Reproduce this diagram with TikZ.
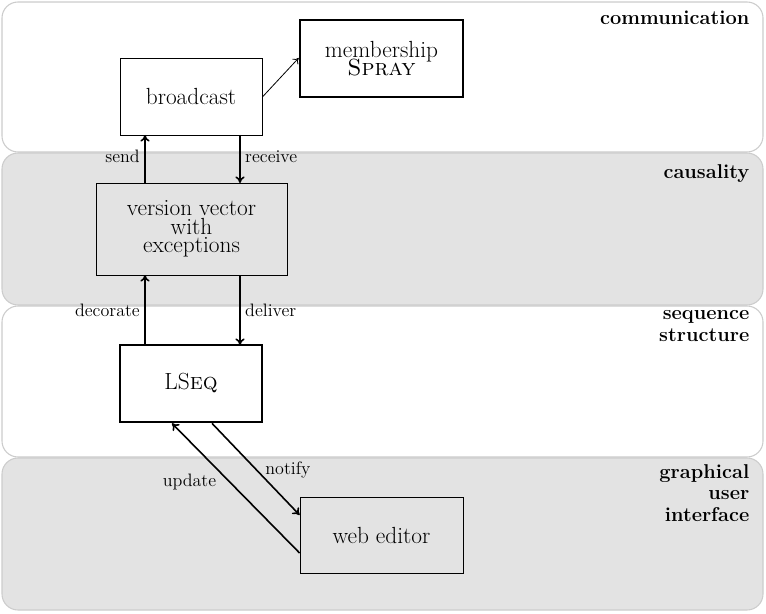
\RequirePackage{fix-cm}
\documentclass[tikz,border=0pt]{standalone}
\usetikzlibrary{arrows.meta}
\begin{document}
\begin{tikzpicture}[x=0.75pt,y=-0.75pt,
 band/.style={draw=black!20,rounded corners=12pt,line width=0.8pt},
 box/.style={draw,line width=0.6pt,minimum width=142*0.75pt,minimum height=77*0.75pt,inner sep=1pt,align=center,font=\fontsize{17.5}{18}\selectfont},
 thick box/.style={box,line width=2pt},
 conn/.style={-{To[length=5pt,width=7pt]},line width=1.2pt},
 lab/.style={font=\fontsize{13.5}{15}\selectfont},
 head/.style={font=\fontsize{15}{17}\selectfont\bfseries,align=right,anchor=north east}]
\useasboundingbox (0,0) rectangle (766,613);
\draw[band,fill=white] (2,2) rectangle (763,152);
\draw[band,fill=black!11] (2,153) rectangle (763,305);
\draw[band,fill=white] (2,306) rectangle (763,457);
\draw[band,fill=black!11] (2,458) rectangle (763,610);
\node[head] (h1) at (754,6) {communication};
\node[head] (h2) at (754,160) {causality};
\node[head] (h3) at (754,306) {sequence\\[-1pt]structure};
\node[head] (h4) at (754,460) {graphical\\[-1pt]user\\[-1pt]interface};
\node[box] (bc) at (191,96.5) {broadcast};
\node[thick box,minimum width=163*0.75pt] (mem) at (381.5,58.5) {membership\\[-4pt]\textsc{Spray}};
\node[box,minimum width=191*0.75pt,minimum height=92*0.75pt] (vv) at (191.5,229) {version vector\\[-4pt]with\\[-4pt]exceptions};
\node[thick box] (ls) at (191,383.5) {LS\textsc{eq}};
\node[box,minimum width=163*0.75pt,minimum height=76*0.75pt] (we) at (381.5,535) {web editor};
\draw[-{To[length=4pt,width=6pt]},line width=0.6pt] (bc.east |- 0,97) -- (mem.west |- 0,58);
\draw[conn] (145,183) -- node[lab,left,pos=0.55]{send} (145,135);
\draw[conn] (240,135) -- node[lab,right,pos=0.45]{receive} (240,183);
\draw[conn] (145,345) -- node[lab,left,pos=0.5]{decorate} (145,275);
\draw[conn] (240,275) -- node[lab,right,pos=0.5]{deliver} (240,345);
\draw[conn] (we.west |- 0,553) -- node[lab,left,pos=0.55,xshift=-6pt]{update} (ls.south west -| 172,0);
\draw[conn] (ls.south west -| 212,0) -- node[lab,right,pos=0.55,yshift=3pt]{notify} (we.west |- 0,515);
\end{tikzpicture}
\end{document}
